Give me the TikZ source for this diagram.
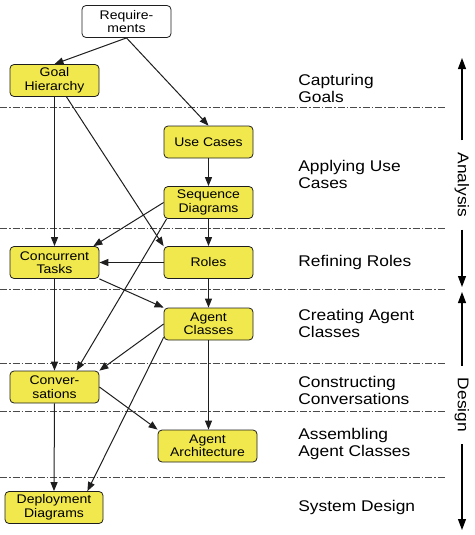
\documentclass[tikz,border=0pt]{standalone}
\usepackage{fontspec}
\newfontfamily\diafont[FakeStretch=1.12]{Liberation Sans}
\usetikzlibrary{arrows.meta}
\definecolor{cyellow}{HTML}{F0E84C}
\definecolor{cline}{HTML}{1E1E1E}
\definecolor{cdash}{HTML}{4A4A4A}
\tikzset{
  every picture/.style={line width=0.8pt},
  box/.style={draw=cline, fill=#1, rounded corners=4pt, align=center, inner sep=1pt, minimum width=89pt, minimum height=32pt, font=\diafont\fontsize{12.5}{13.5}\selectfont},
  box/.default=cyellow,
  arrow/.style={-{Triangle[length=9pt, width=7pt]}, draw=cline, line width=1pt},
  bigarrow/.style={-{Triangle[length=11pt, width=8pt]}, draw=black, line width=1.1pt},
  stage/.style={font=\diafont\fontsize{15.5}{17}\selectfont, align=left, anchor=west, inner sep=0pt},
  phase/.style={font=\diafont\fontsize{15.5}{17}\selectfont, rotate=-90, inner xsep=12pt, inner ysep=0pt},
  separator/.style={draw=cdash, line width=0.8pt, dash pattern=on 7pt off 2pt on 1.5pt off 2pt},
}

\begin{document}
\begin{tikzpicture}[x=1pt, y=-1pt]
  \useasboundingbox (0,0) rectangle (474,535);
  % stage separators
  \foreach \y in {107, 228, 289, 363, 411, 477} \draw[separator] (0,\y) -- (445,\y);
  % models
  \node[box=white] (req) at (126.5,21.5) {Require-\\ments};
  \node[box] (goal) at (54.5,80.5) {Goal\\Hierarchy};
  \node[box] (usecases) at (208.5,142) {Use Cases};
  \node[box] (seq) at (208.5,202.5) {Sequence\\Diagrams};
  \node[box] (conc) at (54.5,262.5) {Concurrent\\Tasks};
  \node[box] (roles) at (208.5,262.5) {Roles};
  \node[box] (agents) at (208.5,324) {Agent\\Classes};
  \node[box] (conv) at (54.5,387) {Conver-\\sations};
  \node[box, minimum width=99pt] (arch) at (207.5,446) {Agent\\Architecture};
  \node[box, minimum width=98pt] (deploy) at (54,507.5) {Deployment\\Diagrams};
  % flows
  \draw[arrow] (req.south) -- (goal.north);
  \draw[arrow] (req.south) -- (usecases.north);
  \foreach \a/\b in {goal/conc, usecases/seq, seq/roles, roles/agents, conc/conv, conv/deploy}
    \draw[arrow] (\a.south) -- (\b.north);
  \draw[arrow] (agents.south) -- (agents.south |- arch.north);
  \draw[arrow] ([xshift=12pt]goal.south) -- (roles.north west);
  \draw[arrow] (seq.west) -- ([xshift=-6pt]conc.north east);
  \draw[arrow] ([xshift=3pt]seq.south west) -- ([xshift=22pt]conv.north);
  \draw[arrow] (roles.west) -- (conc.east);
  \draw[arrow] (conc.south east) -- (agents.north west);
  \draw[arrow] (agents.west) -- (conv.north east);
  \draw[arrow] ([yshift=3pt]agents.south west) -- ([xshift=-16pt]deploy.north east);
  \draw[arrow] (conv.east) -- (arch.north west);
  % stages
  \node[stage] (capture) at (298,88.5) {Capturing\\Goals};
  \node[stage] (apply) at (298,174.5) {Applying Use\\Cases};
  \node[stage] (refine) at (298,262) {Refining Roles};
  \node[stage] (create) at (298,323.5) {Creating Agent\\Classes};
  \node[stage] (construct) at (298,390) {Constructing\\Conversations};
  \node[stage] (assemble) at (298,443.5) {Assembling\\Agent Classes};
  \node[stage] (sysdesign) at (298,507) {System Design};
  % phases
  \node[phase] (analysis) at (462,185) {Analysis};
  \coordinate (analysis top) at (462,58);
  \coordinate (analysis end) at (462,287);
  \draw[bigarrow] (analysis.west) -- (analysis top);
  \draw[bigarrow] (analysis.east) -- (analysis end);
  \node[phase] (design) at (462,405) {Design};
  \coordinate (design top) at (462,292);
  \coordinate (design end) at (462,530);
  \draw[bigarrow] (design.west) -- (design top);
  \draw[bigarrow] (design.east) -- (design end);
\end{tikzpicture}
\end{document}
